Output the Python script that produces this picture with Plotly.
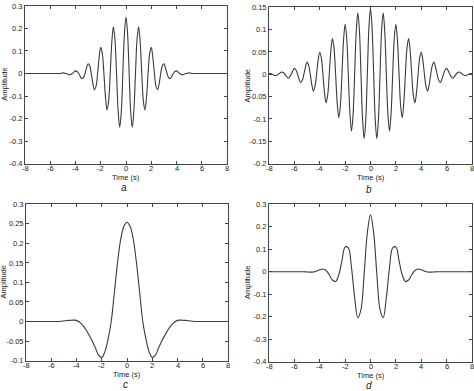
import plotly.graph_objects as go

W, H = 474, 391

# ---------------- data ----------------
# all series are sampled on a regular time grid starting at -8 s
a_dt = 0.125
a_y = [
    0, 0, 0, 0, 0, 0, 0, 0,                                          # -8 .. -7.125
    0, 0, 0, 0, 0, 0, 0, 0,                                          # -7 .. -6.125
    0, 0, 0, 0, 0, 0, 0, 0.001,                                      # -6 .. -5.125
    0.0025, 0.0015, 0, -0.0025, -0.006, -0.0039, 0, 0.0059,          # -5 .. -4.125
    0.0116, 0.0088, 0, -0.0128, -0.023, -0.0182, 0, 0.0252,          # -4 .. -3.125
    0.0435, 0.034, 0, -0.0447, -0.072, -0.0574, 0, 0.0719,           # -3 .. -2.125
    0.116, 0.0879, 0, -0.1047, -0.162, -0.1216, 0, 0.138,            # -2 .. -1.125
    0.207, 0.152, 0, -0.164, -0.239, -0.173, 0, 0.177,               # -1 .. -0.125
    0.251, 0.177, 0, -0.173, -0.239, -0.164, 0, 0.152,               #  0 .. 0.875
    0.207, 0.138, 0, -0.1216, -0.162, -0.1047, 0, 0.0879,            #  1 .. 1.875
    0.116, 0.0719, 0, -0.0574, -0.072, -0.0447, 0, 0.034,            #  2 .. 2.875
    0.0435, 0.0252, 0, -0.0182, -0.023, -0.0128, 0, 0.0088,          #  3 .. 3.875
    0.0116, 0.0059, 0, -0.0039, -0.006, -0.0025, 0, 0.0015,          #  4 .. 4.875
    0.0025, 0.001, 0, 0, 0, 0, 0, 0,                                 #  5 .. 5.875
    0, 0, 0, 0, 0, 0, 0, 0,                                          #  6 .. 6.875
    0, 0, 0, 0, 0, 0, 0, 0,                                          #  7 .. 7.875
    0,                                                               #  8
]

b_dt = 0.125
b_y = [
    0.0017, 0.0013, 0, -0.0018, -0.003, -0.0023, 0, 0.0030,          # -8
    0.005, 0.0038, 0, -0.0048, -0.009, -0.0060, 0, 0.0075,           # -7
    0.013, 0.0093, 0, -0.0113, -0.0185, -0.0137, 0, 0.0165,          # -6
    0.027, 0.0197, 0, -0.0233, -0.038, -0.0272, 0, 0.0316,           # -5
    0.049, 0.0363, 0, -0.0414, -0.064, -0.0468, 0, 0.0525,           # -4
    0.080, 0.0583, 0, -0.0641, -0.0975, -0.0700, 0, 0.0758,          # -3
    0.112, 0.0812, 0, -0.0864, -0.127, -0.0911, 0, 0.0951,           # -2
    0.137, 0.0985, 0, -0.1011, -0.144, -0.1029, 0, 0.1038,           # -1
    0.147, 0.1038, 0, -0.1029, -0.144, -0.1011, 0, 0.0985,           #  0
    0.137, 0.0951, 0, -0.0911, -0.127, -0.0864, 0, 0.0812,           #  1
    0.112, 0.0758, 0, -0.0700, -0.0975, -0.0641, 0, 0.0583,          #  2
    0.080, 0.0525, 0, -0.0468, -0.064, -0.0414, 0, 0.0363,           #  3
    0.049, 0.0316, 0, -0.0272, -0.038, -0.0233, 0, 0.0197,           #  4
    0.027, 0.0165, 0, -0.0137, -0.0185, -0.0113, 0, 0.0093,          #  5
    0.013, 0.0075, 0, -0.0060, -0.009, -0.0048, 0, 0.0038,           #  6
    0.005, 0.0030, 0, -0.0023, -0.003, -0.0018, 0, 0.0013,           #  7
    0.0017,                                                          #  8
]

c_dt = 0.25
c_y = [
    0, 0, 0, 0,                          # -8 .. -7.25
    0, 0, 0, 0,                          # -7 .. -6.25
    0, 0, 0, 0.0005,                     # -6 .. -5.25
    0.0015, 0.0025, 0.003, 0.0035,       # -5 .. -4.25
    0.003, -0.002, -0.01, -0.021,        # -4 .. -3.25
    -0.035, -0.05, -0.068, -0.086,       # -3 .. -2.25
    -0.092, -0.077, -0.045, 0,           # -2 .. -1.25
    0.075, 0.15, 0.21, 0.243,            # -1 .. -0.25
    0.254, 0.243, 0.21, 0.15,            #  0 .. 0.75
    0.075, 0, -0.045, -0.077,            #  1 .. 1.75
    -0.092, -0.086, -0.068, -0.05,       #  2 .. 2.75
    -0.035, -0.021, -0.01, -0.002,       #  3 .. 3.75
    0.003, 0.0035, 0.003, 0.0025,        #  4 .. 4.75
    0.0015, 0.0005, 0, 0,                #  5 .. 5.75
    0, 0, 0, 0,                          #  6 .. 6.75
    0, 0, 0, 0,                          #  7 .. 7.75
    0,                                   #  8
]

d_dt = 0.25
d_y = [
    0, 0, 0, 0,                              # -8
    0, 0, 0, 0,                              # -7
    0, 0, 0, -0.0004,                        # -6
    -0.0012, -0.002, -0.0012, 0.0028,        # -5
    0.0083, 0.0117, 0.0054, -0.0138,         # -4
    -0.0371, -0.0437, -0.0143, 0.0493,       # -3
    0.110, 0.1065, 0.019, -0.1148,           # -2
    -0.2044, -0.1684, -0.0097, 0.173,        # -1
    0.253, 0.173, -0.0097, -0.1684,          #  0
    -0.2044, -0.1148, 0.019, 0.1065,         #  1
    0.110, 0.0493, -0.0143, -0.0437,         #  2
    -0.0371, -0.0138, 0.0054, 0.0117,        #  3
    0.0083, 0.0028, -0.0012, -0.002,         #  4
    -0.0012, -0.0004, 0, 0,                  #  5
    0, 0, 0, 0,                              #  6
    0, 0, 0, 0,                              #  7
    0,                                       #  8
]

t_start = -8
x_ticks = [-8, -6, -4, -2, 0, 2, 4, 6, 8]
x_labels = ["-8", "-6", "-4", "-2", "0", "2", "4", "6", "8"]
ya_ticks = [-0.4, -0.3, -0.2, -0.1, 0, 0.1, 0.2, 0.3]
ya_labels = ["-0.4", "-0.3", "-0.2", "-0.1", "0", "0.1", "0.2", "0.3"]
yb_ticks = [-0.2, -0.15, -0.1, -0.05, 0, 0.05, 0.1, 0.15]
yb_labels = ["-0.2", "-0.15", "-0.1", "-0.05", "0", "0.05", "0.1", "0.15"]
yc_ticks = [-0.1, -0.05, 0, 0.05, 0.1, 0.15, 0.2, 0.25, 0.3]
yc_labels = ["-0.1", "-0.05", "0", "0.05", "0.1", "0.15", "0.2", "0.25", "0.3"]
yd_ticks = ya_ticks
yd_labels = ya_labels
panel_names = ["a", "b", "c", "d"]

# ---------------- figure ----------------
FONT = "Liberation Sans, Arial, sans-serif"
LINE = "#3a3a3a"
AX = "#444444"
TXT = "#222222"
FS = 7.5

fig = go.Figure()
series = [(a_y, a_dt, "x", "y"), (b_y, b_dt, "x2", "y2"), (c_y, c_dt, "x3", "y3"), (d_y, d_dt, "x4", "y4")]
for y, dt, xa, ya in series:
    fig.add_trace(go.Scatter(y=y, x0=t_start, dx=dt, xaxis=xa, yaxis=ya, mode="lines",
                             line=dict(color=LINE, width=1.1, shape="spline", smoothing=1.0),
                             showlegend=False, hoverinfo="skip"))

def px_x(p):
    return p / W

def px_y(p):
    return 1 - p / H

# panel boxes in pixels: (left, right, top, bottom)
boxes = [(25, 227, 2, 163.3), (269, 472, 3.3, 163.3), (26, 228, 205, 365), (269, 472, 205, 366)]
yranges = [(-0.4, 0.3), (-0.2, 0.15), (-0.1, 0.3), (-0.4, 0.3)]
yticks = [(ya_ticks, ya_labels), (yb_ticks, yb_labels), (yc_ticks, yc_labels), (yd_ticks, yd_labels)]

common = dict(showline=True, linecolor=AX, linewidth=1, mirror="ticks", ticks="inside",
              ticklen=3, tickcolor=AX, tickwidth=1, showgrid=False, zeroline=False,
              tickfont=dict(family=FONT, size=FS, color=TXT))

layout = dict(width=W, height=H, margin=dict(l=0, r=0, t=0, b=0),
              paper_bgcolor="white", plot_bgcolor="white", showlegend=False)

annotations = []
amp_x = [5, 247, 3, 248]
letter_dy = [24.5, 26.5, 24.5, 24]
for i, (l, r, tp, bt) in enumerate(boxes):
    sfx = "" if i == 0 else str(i + 1)
    layout["xaxis" + sfx] = dict(domain=[px_x(l), px_x(r)], range=[-8, 8], anchor="y" + sfx,
                                 tickvals=x_ticks, showticklabels=False, **common)
    layout["yaxis" + sfx] = dict(domain=[px_y(bt), px_y(tp)], range=list(yranges[i]), anchor="x" + sfx,
                                 tickvals=yticks[i][0], ticktext=yticks[i][1], **common)
    # x tick labels, placed tight under the axis as in the reference
    for tv, tl in zip(x_ticks, x_labels):
        annotations.append(dict(text=tl, x=tv, xref="x" + sfx, y=px_y(bt + 5), yref="paper",
                                showarrow=False, xanchor="center", yanchor="middle", borderpad=0,
                                font=dict(family=FONT, size=FS, color=TXT)))
    cx = (l + r) / 2
    annotations.append(dict(text="Time (s)", x=px_x(cx), y=px_y(bt + 13.8), xref="paper", yref="paper",
                            showarrow=False, xanchor="center", yanchor="middle", borderpad=0,
                            font=dict(family=FONT, size=FS, color=TXT)))
    annotations.append(dict(text="<i>" + panel_names[i] + "</i>", x=px_x(cx - 2), y=px_y(bt + letter_dy[i]),
                            xref="paper", yref="paper", showarrow=False, xanchor="center", yanchor="middle",
                            borderpad=0, font=dict(family=FONT, size=10, color=TXT)))
    annotations.append(dict(text="Amplitude", x=px_x(amp_x[i]), y=px_y((tp + bt) / 2), xref="paper", yref="paper",
                            showarrow=False, xanchor="center", yanchor="middle", textangle=-90, borderpad=0,
                            font=dict(family=FONT, size=FS, color=TXT)))

layout["annotations"] = annotations
fig.update_layout(**layout)
fig.write_html("out.html")
